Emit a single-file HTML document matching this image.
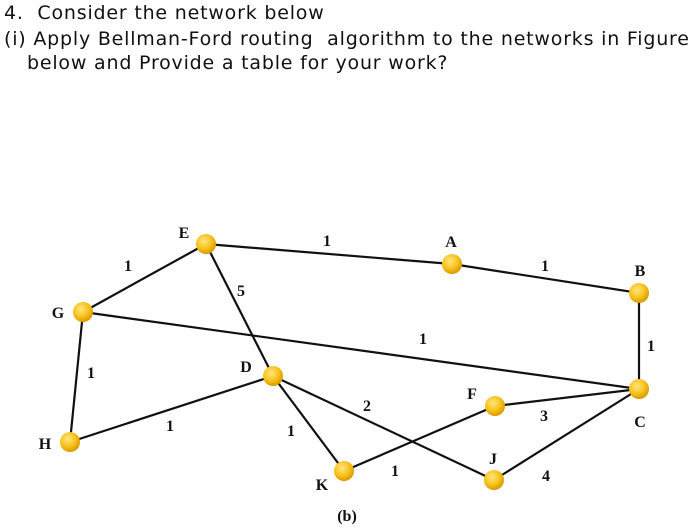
<!DOCTYPE html>
<html><head><style>
body{margin:0;width:694px;height:529px;background:#fff;overflow:hidden}
.t{position:absolute;font-family:"DejaVu Sans",sans-serif;font-size:19px;letter-spacing:0.8px;color:#111;white-space:nowrap}
</style></head><body>
<div class="t" style="left:4px;top:2px">4.&nbsp; Consider the network below</div>
<div class="t" style="left:4px;top:28px">(i) Apply Bellman-Ford routing&nbsp; algorithm to the networks in Figure</div>
<div class="t" style="left:27px;top:52px">below and Provide a table for your work?</div>
<svg width="694" height="529" style="position:absolute;left:0;top:0">
<defs><radialGradient id="g" cx="40%" cy="35%" r="65%"><stop offset="0" stop-color="#ffe680"/><stop offset="0.6" stop-color="#f7c21a"/><stop offset="1" stop-color="#d99a00"/></radialGradient></defs>
<g stroke="#111" stroke-width="2.2">
<line x1="206" y1="244" x2="83" y2="312"/><line x1="206" y1="244" x2="452" y2="264"/>
<line x1="452" y1="264" x2="639" y2="293"/><line x1="639" y1="293" x2="639" y2="389"/>
<line x1="83" y1="312" x2="639" y2="389"/><line x1="83" y1="312" x2="70" y2="442"/>
<line x1="206" y1="244" x2="273" y2="376"/><line x1="273" y1="376" x2="344" y2="471"/>
<line x1="273" y1="376" x2="494" y2="480"/><line x1="70" y1="442" x2="273" y2="376"/>
<line x1="344" y1="471" x2="495" y2="406"/><line x1="495" y1="406" x2="639" y2="389"/>
<line x1="494" y1="480" x2="639" y2="389"/>
</g>
<g fill="url(#g)">
<circle cx="206" cy="244" r="10"/><circle cx="452" cy="264" r="10"/><circle cx="639" cy="293" r="10"/>
<circle cx="83" cy="312" r="10"/><circle cx="273" cy="376" r="10"/><circle cx="639" cy="389" r="10"/>
<circle cx="495" cy="406" r="10"/><circle cx="70" cy="442" r="10"/><circle cx="344" cy="471" r="10"/>
<circle cx="494" cy="480" r="10"/>
</g>
<g font-family="Liberation Serif,serif" font-weight="bold" font-size="16" fill="#111" text-anchor="middle">
<text x="184" y="238">E</text><text x="451" y="247">A</text><text x="640" y="276">B</text>
<text x="58" y="318">G</text><text x="246" y="372">D</text><text x="640" y="427">C</text>
<text x="472" y="399">F</text><text x="45" y="449">H</text><text x="322" y="490">K</text>
<text x="493" y="464">J</text><text x="347" y="521">(b)</text>
<text x="128" y="271">1</text><text x="327" y="246">1</text><text x="545" y="271">1</text>
<text x="651" y="351">1</text><text x="423" y="344">1</text><text x="241" y="296">5</text>
<text x="91" y="378">1</text><text x="170" y="431">1</text><text x="291" y="436">1</text>
<text x="367" y="411">2</text><text x="395" y="476">1</text><text x="544" y="421">3</text>
<text x="546" y="481">4</text>
</g>
</svg>
</body></html>
